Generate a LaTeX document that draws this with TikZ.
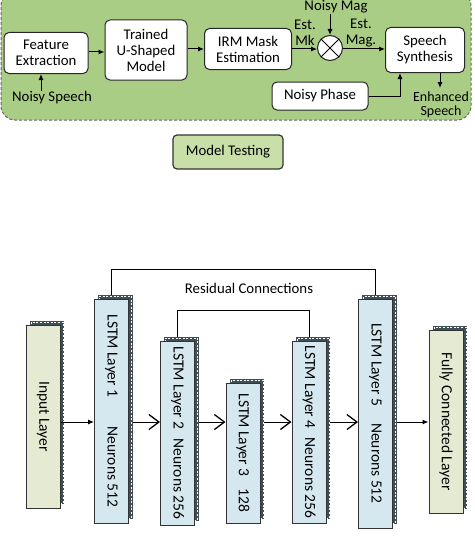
\documentclass[tikz,border=0pt]{standalone}
\usepackage{fontspec}
\setmainfont{Carlito}
\usetikzlibrary{arrows.meta}

\definecolor{panelgreen}{HTML}{A9CD84}
\definecolor{testgreen}{HTML}{C8E0A8}
\definecolor{lstmblue}{HTML}{D5E8F0}
\definecolor{inputgreen}{HTML}{E5EAD3}
\definecolor{slate}{HTML}{3F4F55}

\begin{document}
\begin{tikzpicture}[x=1pt, y=-1pt, line width=1pt,
        font=\fontsize{14.8}{16}\selectfont,
        box/.style = {draw=black!85, fill=white,
            rounded corners=5pt, align=center, inner sep=0pt},
        lbl/.style = {align=center, inner sep=0pt},
        arr/.style = {-{Latex[length=6pt,width=5pt]}},
        chev/.style = {-{Straight Barb[length=10pt,width=15pt,line width=1.3pt]}},
        front/.style = {draw=black!80, minimum width=34pt, inner sep=0pt},
        back/.style = {fill=slate, draw=slate, line width=2.5pt,
            minimum width=32pt, inner sep=0pt,
            postaction={draw=white, line width=0.8pt,
                dash pattern=on 2pt off 1.6pt}},
        txt/.style = {rotate=-90, inner sep=0pt,
            font=\fontsize{15.5}{16}\selectfont}]

    \useasboundingbox (0,0) rectangle (474,551);

    % Testing panel
    \node[draw=black!60, fill=panelgreen, dash pattern=on 3pt off 2pt,
        rounded corners=14pt, minimum width=470pt, minimum height=128pt]
        (panel) at (236,56) {};

    % Processing blocks
    \node[box, minimum width=84pt, minimum height=41pt] (fe) at (46,53) {Feature\\Extraction};
    \node[box, minimum width=82pt, minimum height=60pt] (tr) at (146,50) {Trained\\U-Shaped\\Model};
    \node[box, minimum width=87pt, minimum height=41pt] (irm) at (248,49) {IRM Mask\\Estimation};
    \node[box, minimum width=79pt, minimum height=45pt] (ss) at (425,50) {Speech\\Synthesis};
    \node[box, minimum width=96pt, minimum height=28pt] (nphase) at (320,96) {Noisy Phase};

    % Multiplier
    \node[circle, draw=black!85, fill=white, minimum size=25pt, inner sep=0pt] (mult) at (330,48) {};
    \draw (mult.45) -- (mult.225);
    \draw (mult.135) -- (mult.-45);

    % Labels
    \node[lbl] (nspeech) at (52,98) {Noisy Speech};
    \node[lbl] (nmag) at (336,7) {Noisy Mag};
    \node[lbl] (estmk) at (305,33) {Est.\\Mk};
    \node[lbl] (estmag) at (361,33) {Est.\\Mag.};
    \node[lbl, font=\fontsize{14}{14.5}\selectfont] (enh) at (441,105) {Enhanced\\Speech};

    % Flow
    \draw[arr] ([xshift=-11pt]nspeech.north) -- ([xshift=-5pt]fe.south);
    \draw[arr] (fe.east |- 0,52) -- (tr.west |- 0,52);
    \draw[arr] (tr.east |- irm) -- (irm.west);
    \draw[arr] (irm.east) -- (mult.west |- irm);
    \draw[arr] (nmag.south -| mult) -- (mult.north);
    \draw[arr] (mult.east |- irm) -- (ss.west |- irm);
    \draw[arr] (nphase.east) -| ([xshift=-25pt]ss.south);
    \draw[arr] ([xshift=15pt]ss.south) -- ([xshift=15pt]ss.south |- 0,88);

    % Model testing tag
    \node[draw=black!80, fill=testgreen, line width=1.2pt, rounded corners=4pt,
        minimum width=110pt, minimum height=34pt] (test) at (228,152) {Model Testing};

    % Back layers
    \node[back, minimum height=181pt] (inb) at (47,412.5) {};
    \node[back, minimum height=222pt] (L1b) at (115.5,407) {};
    \node[back, minimum height=182pt] (L2b) at (181.5,429) {};
    \node[back, minimum height=138pt] (L3b) at (247,449) {};
    \node[back, minimum height=180pt] (L4b) at (313,428) {};
    \node[back, minimum height=227pt] (L5b) at (379.5,409.5) {};
    \node[back, minimum height=181pt] (fcb) at (450,417.5) {};

    % Front layers
    \node[front, fill=inputgreen, minimum height=183pt,
        label={[txt]center:Input Layer}] (in) at (43,416.5) {};
    \node[front, fill=lstmblue, minimum height=224pt,
        label={[txt]center:LSTM Layer 1\hspace{1.9em}Neurons 512}] (L1) at (111.5,411) {};
    \node[front, fill=lstmblue, minimum height=184pt,
        label={[txt]center:LSTM Layer 2\hspace{0.6em}Neurons 256}] (L2) at (177.5,433) {};
    \node[front, fill=lstmblue, minimum height=140pt,
        label={[txt]center:LSTM Layer 3\hspace{0.8em}128}] (L3) at (243,453) {};
    \node[front, fill=lstmblue, minimum height=182pt,
        label={[txt]center:LSTM Layer 4\hspace{0.6em}Neurons 256}] (L4) at (309,432) {};
    \node[front, fill=lstmblue, minimum height=229pt,
        label={[txt]center:LSTM Layer 5\hspace{1.1em}Neurons 512}] (L5) at (375.5,413.5) {};
    \node[front, fill=inputgreen, minimum height=183pt,
        label={[txt]center:Fully Connected Layer}] (fc) at (446,421.5) {};

    % Residual connections
    \draw (L1.north |- L1b.north) -- ++(0,-25) -| (L5.north |- L5b.north);
    \draw (L2.north |- L2b.north) -- ++(0,-26) -| (L4.north |- L4b.north);
    \node[lbl] (res) at (249,288) {Residual Connections};

    % Forward path
    \coordinate (flow) at (0,422);
    \draw[arr] (in.east |- flow) -- (L1.west |- flow);
    \draw[chev] (L1b.east |- flow) -- (L2.west |- flow);
    \draw[chev] (L2b.east |- flow) -- (L3.west |- flow);
    \draw[chev] (L3b.east |- flow) -- (L4.west |- flow);
    \draw[chev] (L4b.east |- flow) -- (L5.west |- flow);
    \draw[arr] (L5b.east |- flow) -- (fc.west |- flow);
\end{tikzpicture}
\end{document}
